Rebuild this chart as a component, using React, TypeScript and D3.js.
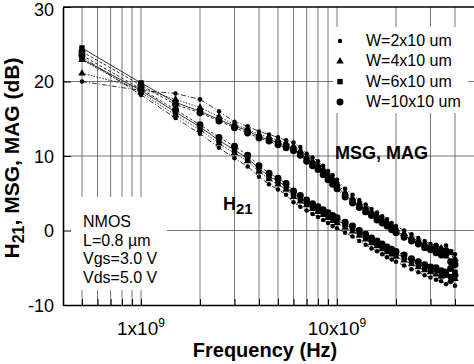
import React, { useEffect, useRef } from 'react';
import * as d3 from 'd3';

// frequency points in GHz
const freqGHz = [0.5, 1, 1.5, 2, 2.5, 3, 3.5, 4, 4.5, 5, 5.5, 6, 6.5, 7, 7.5, 8, 8.5, 9, 9.5, 10,
  11, 12, 13, 14, 15, 16, 17, 18, 19, 20, 22, 24, 26, 28, 30, 32, 34, 36, 38, 40];

// MSG / MAG (dB)
const msgW2 = [20.0, 18.8, 18.4, 17.6, 16.0, 14.6, 14.0, 13.3, 12.9, 12.5, 12.1, 11.8, 11.2, 10.3, 9.8, 9.3, 8.7, 8.0, 7.4, 6.8,
  5.6, 4.8, 4.1, 3.5, 2.9, 2.4, 1.9, 1.5, 1.0, 0.6, 0.0, -0.5, -1.0, -1.4, -1.8, -1.9, -2.3, -2.0, -2.8, -3.2];
const msgW4 = [21.1, 19.1, 17.6, 16.5, 15.3, 14.2, 13.6, 12.9, 12.5, 12.1, 11.7, 11.3, 10.7, 9.9, 9.3, 8.8, 8.2, 7.5, 6.9, 6.3,
  5.1, 4.3, 3.7, 3.1, 2.5, 2.0, 1.5, 1.1, 0.6, 0.2, -0.4, -0.9, -1.4, -1.8, -2.1, -2.6, -2.4, -3.1, -3.0, -3.8];
const msgW6 = [24.5, 19.8, 17.2, 16.0, 14.9, 14.0, 13.4, 12.6, 12.2, 11.8, 11.4, 11.0, 10.3, 9.6, 9.0, 8.4, 7.8, 7.1, 6.5, 5.9,
  4.8, 4.0, 3.4, 2.8, 2.2, 1.7, 1.2, 0.8, 0.3, -0.1, -0.7, -1.2, -1.6, -2.0, -2.4, -2.2, -3.0, -3.4, -2.9, -4.3];
const msgW10 = [24.0, 19.5, 16.9, 15.8, 14.7, 13.8, 13.1, 12.4, 12.0, 11.5, 11.1, 10.7, 10.1, 9.3, 8.7, 8.2, 7.5, 6.8, 6.2, 5.6,
  4.5, 3.7, 3.1, 2.5, 2.0, 1.4, 1.0, 0.6, 0.1, -0.3, -0.9, -1.4, -1.8, -2.3, -2.6, -3.0, -3.3, -2.7, -4.2, -4.6];

// H21 (dB)
const h21W2 = [23.3, 18.2, 15.1, 13.0, 11.1, 9.7, 8.6, 7.2, 6.2, 5.5, 4.8, 3.8, 3.2, 2.7, 2.2, 1.8, 1.4, 1.0, 0.6, 0.3,
  -0.3, -0.8, -1.4, -1.9, -2.4, -2.8, -3.2, -3.6, -3.9, -4.2, -4.7, -5.2, -5.6, -6.0, -6.3, -6.6, -6.8, -7.2, -6.9, -7.4];
const h21W4 = [22.9, 18.5, 15.5, 13.5, 11.7, 10.4, 9.3, 7.9, 6.9, 6.2, 5.5, 4.5, 3.9, 3.4, 2.9, 2.5, 2.1, 1.7, 1.3, 1.0,
  0.4, -0.1, -0.7, -1.2, -1.7, -2.1, -2.5, -2.9, -3.2, -3.5, -4.0, -4.5, -4.9, -5.3, -5.6, -5.9, -6.2, -6.0, -6.7, -6.5];
const h21W6 = [23.0, 18.8, 15.9, 13.9, 12.1, 10.8, 9.7, 8.3, 7.3, 6.6, 5.9, 4.9, 4.3, 3.8, 3.3, 2.9, 2.5, 2.1, 1.7, 1.4,
  0.8, 0.3, -0.3, -0.8, -1.3, -1.7, -2.1, -2.5, -2.8, -3.1, -3.6, -4.1, -4.5, -4.9, -5.2, -5.3, -5.8, -5.5, -6.2, -5.6];
const h21W10 = [23.5, 19.0, 16.2, 14.2, 12.5, 11.3, 10.1, 8.7, 7.7, 7.0, 6.3, 5.3, 4.7, 4.1, 3.6, 3.2, 2.8, 2.4, 2.0, 1.7,
  1.1, 0.6, 0.0, -0.5, -1.0, -1.4, -1.8, -2.2, -2.5, -2.8, -3.3, -3.8, -4.2, -4.6, -4.9, -5.0, -5.4, -5.9, -5.1, -6.0];

const seriesNames = ['W=2x10 um', 'W=4x10 um', 'W=6x10 um', 'W=10x10 um'];
const msgSeries = [msgW2, msgW4, msgW6, msgW10];
const h21Series = [h21W2, h21W4, h21W6, h21W10];

const yTicks = [-10, 0, 10, 20, 30];
const yGrid = [0, 10, 20];
const xLabels = [
  { f: 1e9, base: '1x10', exp: '9' },
  { f: 1e10, base: '10x10', exp: '9' },
];
const noteLines = ['NMOS', 'L=0.8 \u00b5m', 'Vgs=3.0 V', 'Vds=5.0 V'];

const FONT = 'Liberation Sans, Arial, Helvetica, sans-serif';

// marker shape + line dash for each W
const symbolTypes = [d3.symbolCircle, d3.symbolTriangle, d3.symbolSquare, d3.symbolCircle];
const symbolSizes = [16, 24, 30, 38];
const dashes = ['5,2,1,2', '1.5,1.5', null, '3,2'];

const App = () => {
  const ref = useRef<SVGSVGElement>(null);

  useEffect(() => {
    const svg = d3.select(ref.current);
    svg.selectAll('*').remove();

    const left = 63, right = 474, top = 7, bottom = 305;
    const x = d3.scaleLog().domain([4e8, 5e10]).range([left, right]);
    const y = d3.scaleLinear().domain([-10, 30]).range([bottom, top]);

    svg.append('rect').attr('width', 474).attr('height', 364).attr('fill', '#fff');

    // grid
    const grid = svg.append('g').attr('stroke', '#555').attr('stroke-width', 0.8);
    const minor = x.ticks().filter(t => t > 4e8 && t < 5e10);
    grid.selectAll('line.v').data(minor).enter().append('line')
      .attr('x1', d => x(d)).attr('x2', d => x(d))
      .attr('y1', top).attr('y2', bottom);
    grid.selectAll('line.h').data(yGrid).enter().append('line')
      .attr('x1', left).attr('x2', right)
      .attr('y1', d => y(d)).attr('y2', d => y(d));

    // white boxes behind legend and note
    svg.append('rect').attr('x', 333).attr('y', 27).attr('width', 135).attr('height', 86).attr('fill', '#fff');
    svg.append('rect').attr('x', 64).attr('y', 197).attr('width', 103).attr('height', 93).attr('fill', '#fff');

    // axes
    svg.append('g')
      .attr('transform', `translate(0,${bottom})`)
      .call(d3.axisBottom(x).tickValues(minor).tickSize(-6).tickSizeOuter(0).tickFormat(() => ''))
      .call(g => g.selectAll('line').attr('stroke', '#000'))
      .call(g => g.select('.domain').attr('stroke', '#000').attr('stroke-width', 1.6));
    svg.append('g')
      .attr('transform', `translate(${left},0)`)
      .call(d3.axisLeft(y).tickValues(yTicks).tickSize(-8).tickSizeOuter(0).tickFormat(() => ''))
      .call(g => g.selectAll('line').attr('stroke', '#000'))
      .call(g => g.select('.domain').attr('stroke', '#000').attr('stroke-width', 1.6));
    svg.append('line').attr('x1', left).attr('x2', right).attr('y1', top).attr('y2', top)
      .attr('stroke', '#000').attr('stroke-width', 1.6);

    // tick labels
    svg.append('g').selectAll('text').data(yTicks).enter().append('text')
      .attr('x', 54).attr('y', d => Math.max(y(d) + 6.5, 16))
      .attr('text-anchor', 'end').attr('font-family', FONT).attr('font-size', 18)
      .text(d => d);
    const xl = svg.append('g').selectAll('text').data(xLabels).enter().append('text')
      .attr('x', d => x(d.f)).attr('y', 335)
      .attr('text-anchor', 'middle').attr('font-family', FONT).attr('font-size', 19);
    xl.append('tspan').text(d => d.base);
    xl.append('tspan').attr('dy', -8).attr('font-size', 12).text(d => d.exp);

    // axis titles
    svg.append('text')
      .attr('x', 265).attr('y', 357).attr('text-anchor', 'middle')
      .attr('font-family', FONT).attr('font-size', 20).attr('font-weight', 'bold')
      .text('Frequency (Hz)');
    const yt = svg.append('text')
      .attr('transform', 'translate(19,158) rotate(-90)').attr('text-anchor', 'middle')
      .attr('font-family', FONT).attr('font-size', 21).attr('font-weight', 'bold');
    yt.append('tspan').text('H');
    yt.append('tspan').attr('dy', 5).attr('font-size', 16).text('21');
    yt.append('tspan').attr('dy', -5).text(', MSG, MAG (dB)');

    // data
    const line = d3.line<number>()
      .x((_, i) => x(freqGHz[i] * 1e9))
      .y(d => y(d));
    const groups = [msgSeries, h21Series];
    groups.forEach(group => {
      group.forEach((vals, k) => {
        svg.append('path')
          .datum(vals)
          .attr('fill', 'none').attr('stroke', '#000').attr('stroke-width', 0.8)
          .attr('stroke-dasharray', dashes[k])
          .attr('d', line);
        const sym = d3.symbol().type(symbolTypes[k]).size(symbolSizes[k]);
        svg.append('g').selectAll('path').data(vals).enter().append('path')
          .attr('transform', (d, i) => `translate(${x(freqGHz[i] * 1e9)},${y(d)})`)
          .attr('d', sym())
          .attr('fill', '#000');
      });
    });

    // labels in plot
    svg.append('text').attr('x', 335).attr('y', 159)
      .attr('font-family', FONT).attr('font-size', 18).attr('font-weight', 'bold')
      .text('MSG, MAG');
    const hl = svg.append('text').attr('x', 223).attr('y', 210)
      .attr('font-family', FONT).attr('font-size', 18).attr('font-weight', 'bold');
    hl.append('tspan').text('H');
    hl.append('tspan').attr('dy', 4).attr('font-size', 15).text('21');

    svg.append('g').selectAll('text').data(noteLines).enter().append('text')
      .attr('x', 83).attr('y', (d, i) => 227 + i * 18.5)
      .attr('font-family', FONT).attr('font-size', 16)
      .text(d => d);

    // legend
    const lg = svg.append('g');
    seriesNames.forEach((name, k) => {
      const cy = 41 + k * 20.3;
      lg.append('path')
        .attr('transform', `translate(340,${cy})`)
        .attr('d', d3.symbol().type(symbolTypes[k]).size(symbolSizes[k])())
        .attr('fill', '#000');
      lg.append('text').attr('x', 366).attr('y', cy + 5)
        .attr('font-family', FONT).attr('font-size', 16)
        .text(name);
    });
  }, []);

  return (
    <svg ref={ref} width={474} height={364}
      style={{ position: 'absolute', left: 0, top: 0, display: 'block' }} />
  );
};

export default App;
